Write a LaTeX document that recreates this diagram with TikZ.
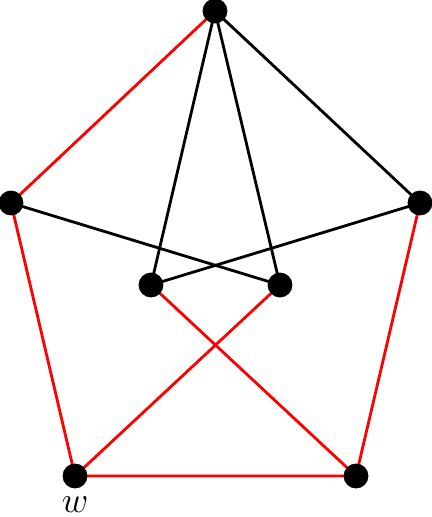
\documentclass[tikz,border=0pt]{standalone}
\usepackage{amsmath, amssymb}
\usepackage{xcolor}
\usepackage{tikz}

\begin{document}
\begin{tikzpicture}[line width=1.6pt]
    \useasboundingbox (0, 0) rectangle (8.64, 10.34);
    \coordinate (T) at (4.30, 10.12);
    \coordinate (L) at (0.22, 6.28);
    \coordinate (R) at (8.40, 6.28);
    \coordinate (P) at (3.02, 4.64);
    \coordinate (Q) at (5.60, 4.64);
    \coordinate (W) at (1.50, 0.82);
    \coordinate (V) at (7.12, 0.82);
    \draw[red] (T) -- (L) -- (W) -- (V) -- (R);
    \draw[red] (P) -- (V);
    \draw[red] (Q) -- (W);
    \draw (P) -- (T) -- (Q);
    \draw (T) -- (R) -- (P);
    \draw (L) -- (Q);
    \filldraw (T) circle (0.22);
    \filldraw (L) circle (0.22);
    \filldraw (R) circle (0.22);
    \filldraw (P) circle (0.22);
    \filldraw (Q) circle (0.22);
    \filldraw (W) circle (0.22) node[below=10pt, inner sep=1pt] {\huge $w$};
    \filldraw (V) circle (0.22);
\end{tikzpicture}
\end{document}
